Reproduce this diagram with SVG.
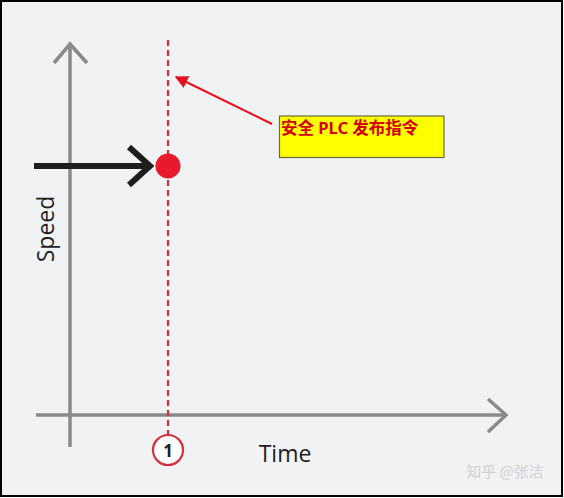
<svg xmlns="http://www.w3.org/2000/svg" width="564" height="498" viewBox="0 0 564 498">
<defs>
<style>
.axis{stroke:#8a8a8c;stroke-width:3.5;fill:none;stroke-linecap:butt}
.lbl{font-family:"Open Sans","Noto Sans","DejaVu Sans",sans-serif;font-size:23px;fill:#1e1e1e}
</style>
<marker id="redhead" viewBox="0 0 10 10" refX="9" refY="5" markerWidth="13" markerHeight="13" markerUnits="userSpaceOnUse" orient="auto">
<path d="M0,0 L10,5 L0,10 z" fill="#e8101c"/>
</marker>
</defs>
<rect x="1" y="1" width="561" height="495" fill="#f1f2f4" stroke="#000" stroke-width="2"/>
<g id="axes">
<line class="axis" x1="70" y1="447" x2="70" y2="44"/>
<polyline class="axis" points="54,63 70,44 87,63"/>
<line class="axis" x1="36" y1="415" x2="506" y2="415"/>
<polyline class="axis" points="488,399 506,415 488,432"/>
</g>
<g id="connectors">
<line x1="168" y1="40" x2="168" y2="435" stroke="#d3303f" stroke-width="2.2" stroke-dasharray="6,4"/>
<line x1="34" y1="166" x2="148" y2="166" stroke="#1e1e1e" stroke-width="6"/>
<polyline points="129,147 150,166 129,185" fill="none" stroke="#1e1e1e" stroke-width="6"/>
<line x1="272" y1="124" x2="176" y2="77" stroke="#e8101c" stroke-width="2" marker-end="url(#redhead)"/>
</g>
<g id="event-dot">
<circle cx="168" cy="166" r="12.5" fill="#e8192c"/>
</g>
<g id="note">
<rect x="279.5" y="116" width="164.5" height="41.5" fill="#ffff00" stroke="#6b6b3a" stroke-width="1.2"/>
<text x="281" y="134" font-family="'Noto Sans','Noto Sans CJK SC',sans-serif" font-size="16.5" font-weight="bold" fill="#d40000">安全 PLC 发布指令</text>
</g>
<g id="marker-1">
<circle cx="168" cy="450" r="15" fill="#fff" stroke="#d3303f" stroke-width="2.2"/>
<text x="168" y="456.5" text-anchor="middle" font-family="'Open Sans','DejaVu Sans',sans-serif" font-size="17" font-weight="bold" fill="#1e1e1e">1</text>
</g>
<g id="labels">
<text class="lbl" transform="translate(54,229) rotate(-90)" text-anchor="middle">Speed</text>
<text class="lbl" x="285" y="462" text-anchor="middle">Time</text>
<text x="505" y="477" text-anchor="middle" font-family="'Noto Sans CJK SC',sans-serif" font-size="15" fill="#d0d0d2">知乎 @张洁</text>
</g>
</svg>
